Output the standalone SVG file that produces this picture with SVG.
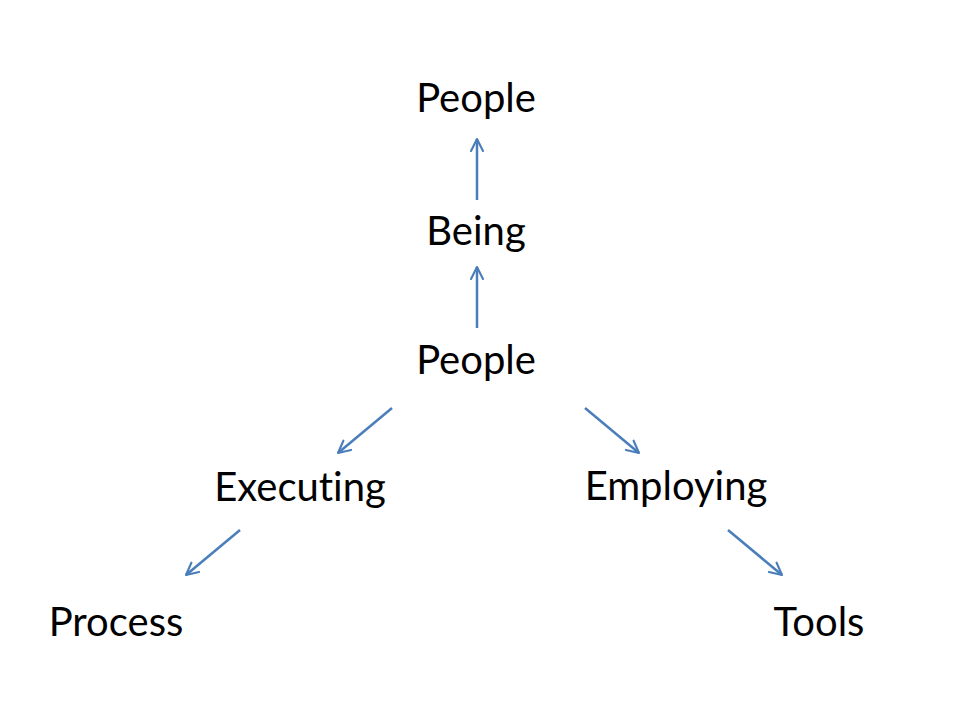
<svg xmlns="http://www.w3.org/2000/svg" width="960" height="720" viewBox="0 0 960 720">
<style>
.lbl{font-family:Lato,"Open Sans","Liberation Sans",sans-serif;font-size:40px;fill:#000;text-anchor:middle;font-variant-ligatures:none;font-feature-settings:"liga" 0,"clig" 0}
.arr{stroke:#4a7ebb;stroke-width:2.5;fill:none;marker-end:url(#ah)}
</style>
<defs>
<marker id="ah" viewBox="0 0 10 10" refX="9" refY="5" markerWidth="6" markerHeight="6" orient="auto" markerUnits="strokeWidth">
<path d="M1,1 L9,5 L1,9" fill="none" stroke="#4a7ebb" stroke-width="1.4" stroke-linecap="round" stroke-linejoin="round"/>
</marker>
</defs>
<rect width="960" height="720" fill="#fff"/>
<g id="connectors">
<line class="arr" x1="477" y1="200" x2="477" y2="139"/>
<line class="arr" x1="477" y1="328" x2="477" y2="267"/>
<line class="arr" x1="392" y1="408" x2="338" y2="453"/>
<line class="arr" x1="240" y1="530" x2="186" y2="575"/>
<line class="arr" x1="585" y1="408" x2="639" y2="453"/>
<line class="arr" x1="728" y1="530" x2="782" y2="575"/>
</g>
<g id="people-top"><text class="lbl" x="476" y="112">People</text></g>
<g id="being"><text class="lbl" x="476" y="245">Being</text></g>
<g id="people"><text class="lbl" x="476" y="374">People</text></g>
<g id="executing"><text class="lbl" x="300" y="501">Executing</text></g>
<g id="employing"><text class="lbl" x="676" y="500">Employing</text></g>
<g id="process"><text class="lbl" x="116" y="636">Process</text></g>
<g id="tools"><text class="lbl" x="819" y="636">Tools</text></g>
</svg>
